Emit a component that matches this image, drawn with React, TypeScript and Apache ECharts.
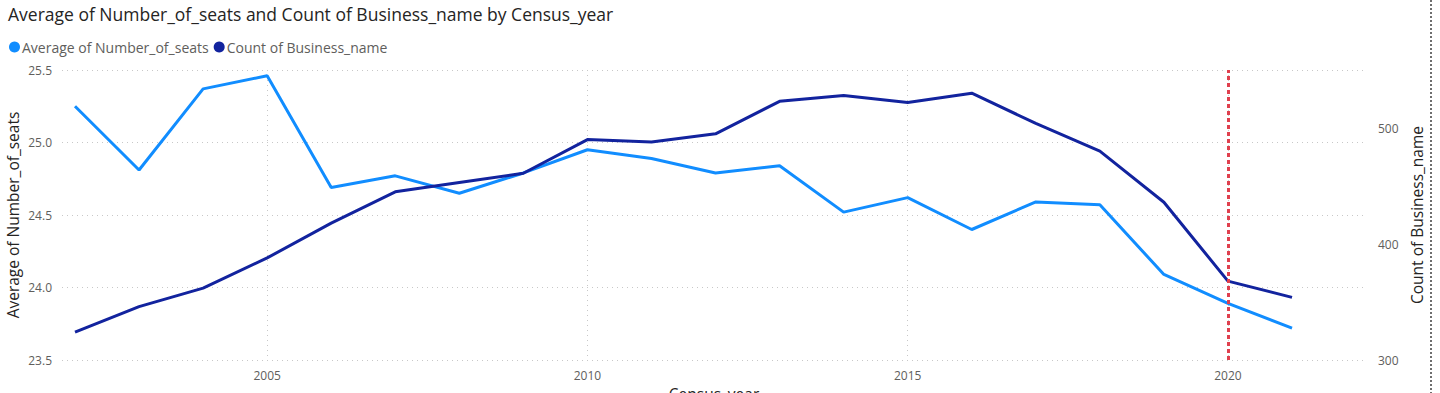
import React, { useEffect, useRef } from "react";
import * as echarts from "echarts";

const years = [2002, 2003, 2004, 2005, 2006, 2007, 2008, 2009, 2010, 2011, 2012, 2013, 2014, 2015, 2016, 2017, 2018, 2019, 2020, 2021];
const avgSeats = [25.25, 24.81, 25.37, 25.46, 24.69, 24.77, 24.65, 24.79, 24.95, 24.89, 24.79, 24.84, 24.52, 24.62, 24.4, 24.59, 24.57, 24.09, 23.89, 23.72];
const countBusiness = [324, 346, 362, 388, 418, 445, 453, 461, 490, 488, 495, 523, 528, 522, 530, 504, 480, 436, 368, 354];
const xTickYears = [2005, 2010, 2015, 2020];
const markerYear = 2020;

const FONT = "'Open Sans', 'Noto Sans', sans-serif";

export default function App() {
  const ref = useRef<HTMLDivElement>(null);
  useEffect(() => {
    document.body.style.margin = "0";
    const chart = echarts.init(ref.current!, null, { renderer: "svg" });
    const gridColor = "#C8C8C8";
    chart.setOption({
      animation: false,
      textStyle: { fontFamily: FONT },
      title: {
        text: "Average of Number_of_seats and Count of Business_name by Census_year",
        left: 3,
        top: 0,
        textStyle: { fontSize: 17.5, fontWeight: "normal", color: "#252423", fontFamily: FONT },
      },
      legend: {
        left: 4,
        top: 35,
        icon: "circle",
        itemWidth: 11,
        itemHeight: 11,
        itemGap: 5,
        textStyle: { fontSize: 14, color: "#605E5C", fontFamily: FONT, padding: [0, 0, 0, -3] },
        data: ["Average of Number_of_seats", "Count of Business_name"],
      },
      grid: { left: 62, right: 74, top: 70, bottom: 33, containLabel: false, outerBoundsMode: "none" },
      xAxis: {
        type: "value",
        min: 2001.797,
        max: 2022.155,
        name: "Census_year",
        nameLocation: "middle",
        nameGap: 24,
        nameTextStyle: { fontSize: 15.5, color: "#252423", fontFamily: FONT },
        axisLine: { show: false },
        axisTick: { show: false },
        axisLabel: {
          color: "#605E5C",
          fontSize: 12,
          margin: 9,
          showMinLabel: false,
          showMaxLabel: false,
          formatter: (v: number) => (xTickYears.includes(Math.round(v)) && Math.abs(v - Math.round(v)) < 1e-6 ? String(v) : ""),
        },
        splitLine: {
          show: true,
          showMinLine: false,
          showMaxLine: false,
          lineStyle: { color: gridColor, type: [1, 4], width: 1 },
        },
      },
      yAxis: [
        {
          type: "value",
          min: 23.5,
          max: 25.5,
          interval: 0.5,
          name: "Average of Number_of_seats",
          nameLocation: "middle",
          nameGap: 41,
          nameMoveOverlap: false,
          nameTextStyle: { fontSize: 15.5, color: "#252423", fontFamily: FONT },
          axisLine: { show: false },
          axisTick: { show: false },
          axisLabel: { color: "#605E5C", fontSize: 12, margin: 10, formatter: (v: number) => v.toFixed(1) },
          splitLine: { show: true, lineStyle: { color: gridColor, type: [1, 4], width: 1 } },
        },
        {
          type: "value",
          min: 300,
          max: 550,
          interval: 100,
          name: "Count of Business_name",
          nameLocation: "middle",
          nameGap: 43,
          nameRotate: 90,
          nameTextStyle: { fontSize: 15.5, color: "#252423", fontFamily: FONT },
          axisLine: { show: false },
          axisTick: { show: false },
          axisLabel: { color: "#605E5C", fontSize: 12, margin: 12, showMaxLabel: false },
          splitLine: { show: false },
        },
      ],
      series: [
        {
          name: "Average of Number_of_seats",
          type: "line",
          yAxisIndex: 0,
          data: years.map((y, i) => [y, avgSeats[i]]),
          showSymbol: false,
          symbol: "circle",
          itemStyle: { color: "#118DFF" },
          lineStyle: { color: "#118DFF", width: 3 },
          z: 3,
        },
        {
          name: "Count of Business_name",
          type: "line",
          yAxisIndex: 1,
          data: years.map((y, i) => [y, countBusiness[i]]),
          showSymbol: false,
          symbol: "circle",
          itemStyle: { color: "#12239E" },
          lineStyle: { color: "#12239E", width: 3 },
          z: 4,
          markLine: {
            silent: true,
            symbol: "none",
            label: { show: false },
            lineStyle: { color: "#E0404E", type: [4, 3], width: 3 },
            data: [{ xAxis: markerYear }],
            z: 5,
          },
        },
      ],
      graphic: [
        {
          type: "line",
          shape: { x1: 1431, y1: 0, x2: 1431, y2: 393 },
          style: { stroke: "#6E6E6E", lineWidth: 2, lineDash: [2, 2] },
        },
      ],
    });
    return () => chart.dispose();
  }, []);
  return <div ref={ref} style={{ width: 1440, height: 393 }} />;
}
